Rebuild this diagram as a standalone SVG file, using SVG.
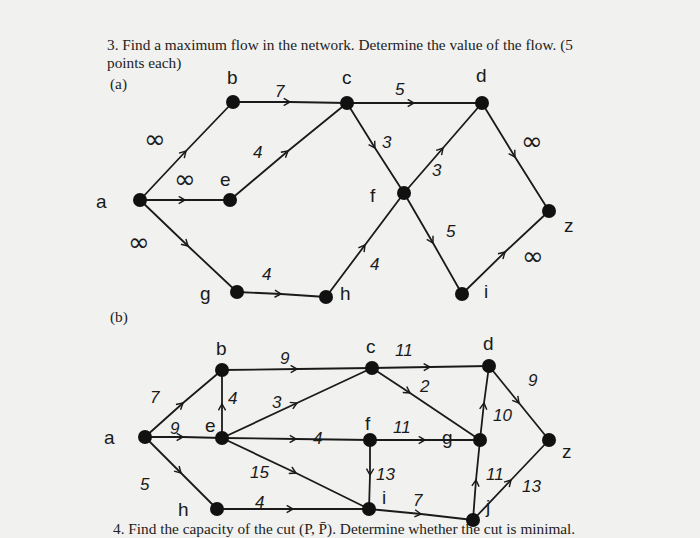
<svg xmlns="http://www.w3.org/2000/svg" width="700" height="538" viewBox="0 0 700 538">
<style>
.e{fill:none;stroke:#1a1a1a;stroke-width:1.8;marker-mid:url(#ch)}
.n{fill:#111}
.t{font-family:"Liberation Serif",serif;font-size:15.3px;fill:#222}
.l{font-family:"Liberation Sans",sans-serif;font-size:17px;fill:#1a1a1a;font-style:italic}
.inf{font-family:"DejaVu Sans",sans-serif;font-size:26px;fill:#1a1a1a}
.nl{font-family:"Liberation Sans",sans-serif;font-size:19px;fill:#1a1a1a}
</style>
<defs>
<marker id="ch" viewBox="0 0 10 10" refX="8" refY="5" markerWidth="9" markerHeight="9" markerUnits="userSpaceOnUse" orient="auto"><path d="M1,1 L8,5 L1,9" fill="none" stroke="#1a1a1a" stroke-width="1.6"/></marker>
</defs>
<rect width="700" height="538" fill="#f1f1ef"/>
<text class="t" x="107" y="50">3. Find a maximum flow in the network. Determine the value of the flow. (5</text>
<text class="t" x="107" y="68">points each)</text>
<text class="t" x="110" y="89">(a)</text>
<text class="t" x="110" y="322">(b)</text>
<text class="t" x="113" y="534">4. Find the capacity of the cut (P, P̄). Determine whether the cut is minimal.</text>
<g id="edges">
<path class="e" d="M140,200 L186,151 L233,102"/>
<path class="e" d="M140,200 L185,200 L230,200"/>
<path class="e" d="M140,200 L188,246 L237,292"/>
<path class="e" d="M233,102 L290,102 L347,103"/>
<path class="e" d="M347,103 L414,103 L482,103"/>
<path class="e" d="M230,200 L288,151 L347,103"/>
<path class="e" d="M347,103 L375,148 L404,193"/>
<path class="e" d="M404,193 L443,148 L482,103"/>
<path class="e" d="M482,103 L515,157 L549,211"/>
<path class="e" d="M404,193 L433,243 L462,294"/>
<path class="e" d="M462,294 L505,252 L549,211"/>
<path class="e" d="M237,292 L281,294 L326,297"/>
<path class="e" d="M326,297 L365,245 L404,193"/>
<path class="e" d="M145,437 L183,403 L222,370"/>
<path class="e" d="M145,437 L183,437 L222,438"/>
<path class="e" d="M145,437 L181,473 L217,509"/>
<path class="e" d="M222,370 L297,369 L372,368"/>
<path class="e" d="M222,438 L222,404 L222,370"/>
<path class="e" d="M222,438 L297,403 L372,368"/>
<path class="e" d="M222,438 L296,439 L370,440"/>
<path class="e" d="M222,438 L296,473 L369,509"/>
<path class="e" d="M370,440 L425,440 L480,440"/>
<path class="e" d="M370,440 L370,475 L369,509"/>
<path class="e" d="M372,368 L430,367 L489,366"/>
<path class="e" d="M372,368 L410,393 L480,440"/>
<path class="e" d="M480,440 L484,403 L489,366"/>
<path class="e" d="M489,366 L519,403 L549,440"/>
<path class="e" d="M473,520 L476,480 L480,440"/>
<path class="e" d="M473,520 L511,480 L549,440"/>
<path class="e" d="M217,509 L293,509 L369,509"/>
<path class="e" d="M369,509 L421,514 L473,520"/>
</g>
<g id="nodes-a">
<g id="a_a"><circle class="n" cx="140" cy="200" r="7"/><text class="nl" x="96" y="208">a</text></g>
<g id="a_b"><circle class="n" cx="233" cy="102" r="7"/><text class="nl" x="227" y="84">b</text></g>
<g id="a_c"><circle class="n" cx="347" cy="103" r="7"/><text class="nl" x="342" y="84">c</text></g>
<g id="a_d"><circle class="n" cx="482" cy="103" r="7"/><text class="nl" x="476" y="82">d</text></g>
<g id="a_e"><circle class="n" cx="230" cy="200" r="7"/><text class="nl" x="220" y="186">e</text></g>
<g id="a_f"><circle class="n" cx="404" cy="193" r="7"/><text class="nl" x="370" y="202">f</text></g>
<g id="a_g"><circle class="n" cx="237" cy="292" r="7"/><text class="nl" x="200" y="300">g</text></g>
<g id="a_h"><circle class="n" cx="326" cy="297" r="7"/><text class="nl" x="340" y="300">h</text></g>
<g id="a_i"><circle class="n" cx="462" cy="294" r="7"/><text class="nl" x="484" y="298">i</text></g>
<g id="a_z"><circle class="n" cx="549" cy="211" r="7"/><text class="nl" x="564" y="232">z</text></g>
</g>
<g id="labels-a">
<text class="inf" x="144" y="148">∞</text>
<text class="inf" x="174" y="188">∞</text>
<text class="inf" x="128" y="251">∞</text>
<text class="l" x="275" y="97">7</text>
<text class="l" x="395" y="95">5</text>
<text class="l" x="253" y="158">4</text>
<text class="l" x="382" y="148">3</text>
<text class="l" x="432" y="176">3</text>
<text class="l" x="446" y="237">5</text>
<text class="inf" x="521" y="150">∞</text>
<text class="inf" x="522" y="265">∞</text>
<text class="l" x="262" y="280">4</text>
<text class="l" x="370" y="270">4</text>
</g>
<g id="nodes-b">
<g id="b_a"><circle class="n" cx="145" cy="437" r="7"/><text class="nl" x="104" y="444">a</text></g>
<g id="b_b"><circle class="n" cx="222" cy="370" r="7"/><text class="nl" x="216" y="355">b</text></g>
<g id="b_c"><circle class="n" cx="372" cy="368" r="7"/><text class="nl" x="366" y="353">c</text></g>
<g id="b_d"><circle class="n" cx="489" cy="366" r="7"/><text class="nl" x="483" y="350">d</text></g>
<g id="b_e"><circle class="n" cx="222" cy="438" r="7"/><text class="nl" x="205" y="432">e</text></g>
<g id="b_f"><circle class="n" cx="370" cy="440" r="7"/><text class="nl" x="365" y="430">f</text></g>
<g id="b_g"><circle class="n" cx="480" cy="440" r="7"/><text class="nl" x="442" y="444">g</text></g>
<g id="b_h"><circle class="n" cx="217" cy="509" r="7"/><text class="nl" x="178" y="516">h</text></g>
<g id="b_i"><circle class="n" cx="369" cy="509" r="7"/><text class="nl" x="382" y="504">i</text></g>
<g id="b_j"><circle class="n" cx="473" cy="520" r="7"/><text class="nl" x="486" y="513">j</text></g>
<g id="b_z"><circle class="n" cx="549" cy="440" r="7"/><text class="nl" x="562" y="458">z</text></g>
</g>
<g id="labels-b">
<text class="l" x="150" y="403">7</text>
<text class="l" x="170" y="434">9</text>
<text class="l" x="140" y="490">5</text>
<text class="l" x="280" y="364">9</text>
<text class="l" x="228" y="404">4</text>
<text class="l" x="272" y="408">3</text>
<text class="l" x="313" y="444">4</text>
<text class="l" x="250" y="478">15</text>
<text class="l" x="393" y="433">11</text>
<text class="l" x="376" y="480">13</text>
<text class="l" x="395" y="356">11</text>
<text class="l" x="420" y="392">2</text>
<text class="l" x="493" y="421">10</text>
<text class="l" x="528" y="386">9</text>
<text class="l" x="486" y="480">11</text>
<text class="l" x="522" y="492">13</text>
<text class="l" x="255" y="508">4</text>
<text class="l" x="413" y="506">7</text>
</g>
</svg>
